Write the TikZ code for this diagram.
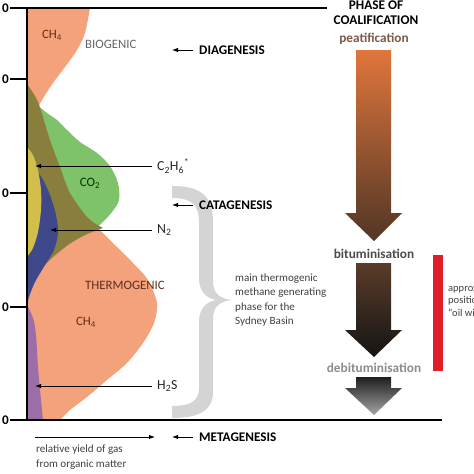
\documentclass[tikz,border=0pt]{standalone}
\usepackage{fontspec}
\setmainfont{Carlito}
\usetikzlibrary{arrows.meta,positioning,calc}

\definecolor{ch4col}{RGB}{243,162,124}
\definecolor{co2col}{RGB}{126,194,106}
\definecolor{olivecol}{RGB}{138,126,60}
\definecolor{yellowcol}{RGB}{210,190,74}
\definecolor{n2col}{RGB}{62,72,138}
\definecolor{h2scol}{RGB}{156,110,168}
\definecolor{bracecol}{RGB}{212,212,212}
\definecolor{peatorange}{RGB}{224,118,60}
\definecolor{peatbrown}{RGB}{123,90,72}
\definecolor{coalbrown}{RGB}{90,60,42}
\definecolor{oilred}{RGB}{224,30,42}
\definecolor{labelbrown}{RGB}{96,46,30}

\tikzset{
  gas/.style={font=\fontsize{13.8}{15}\selectfont, text=black!85, inner sep=0pt},
  stage/.style={font=\bfseries\fontsize{13.2}{15}\selectfont, inner sep=0pt},
  region/.style={font=\fontsize{12.8}{15}\selectfont, text=labelbrown, inner sep=0pt},
  phase/.style={font=\bfseries\fontsize{13.3}{15}\selectfont, inner sep=0pt},
  note/.style={font=\fontsize{11.1}{14.5}\selectfont, text=black!75, align=left, inner sep=0pt},
  tip/.style={-{Latex[length=6pt,width=4.5pt]}, line width=0.9pt},
  axisline/.style={line width=2.2pt},
}

\begin{document}
\begin{tikzpicture}[x=1pt,y=-1pt]
\clip (0,0) rectangle (474,474);

% gas yield fields
\fill[ch4col] (27,8) -- plot[smooth] coordinates {(90,8) (85,33) (77,50) (65,67) (53,83) (42,100) (36,112)} -- (27,112) -- cycle;
\fill[ch4col] (27,420) -- plot[smooth] coordinates {(60,420) (70,410) (87,397) (107,380) (127,363) (143,343) (154,323) (157,303) (148,280) (133,263) (117,247) (100,230) (95,225)} -- (75,215) -- (27,215) -- cycle;
\fill[co2col] plot[smooth] coordinates {(36,104) (47,113) (57,120) (67,130) (80,142) (97,153) (110,166) (118,183) (119,200) (112,212) (103,222) (96,228)} -- (75,205) -- (50,150) -- cycle;
\fill[olivecol] plot[smooth] coordinates {(27,84) (38,102) (50,140) (60,167) (70,193) (88,218) (103,228)} -- plot[smooth] coordinates {(103,228) (85,235) (68,245) (52,258) (40,270)} -- (27,275) -- cycle;
\fill[n2col] (27,165) -- plot[smooth] coordinates {(33,166) (42,178) (50,195) (56,215) (58,233) (54,250) (45,265) (35,282) (29,297) (27,307)} -- cycle;
\fill[yellowcol] plot[smooth] coordinates {(27,147) (33,155) (38,170) (41,190) (41,210) (38,232) (33,248) (27,257)} -- cycle;
\fill[h2scol] plot[smooth] coordinates {(27,305) (33,318) (36,335) (38,367) (41,400) (43,420)} -- (27,420) -- cycle;

% brace
\fill[bracecol] (172,186) .. controls (200,186) and (213,195) .. (213,222)
  -- (213,282) .. controls (213,293) and (220,299) .. (232,300)
  .. controls (220,301) and (213,307) .. (213,318)
  -- (213,392) .. controls (213,410) and (200,418) .. (172,418)
  -- (172,406) .. controls (192,406) and (199,400) .. (199,388)
  -- (199,322) .. controls (199,310) and (205,302) .. (216,300)
  .. controls (205,298) and (199,290) .. (199,278)
  -- (199,222) .. controls (199,205) and (192,198) .. (172,198) -- cycle;
\coordinate (bracetip) at (232,300);
\node[note, right=3pt of bracetip] (bracenote) {main thermogenic\\methane generating\\phase for the\\Sydney Basin};

% axes
\draw[axisline] (10,8) -- (327,8);
\draw[axisline] (10,420) -- (442,420);
\draw[axisline] (27,8) -- (27,420);
\foreach \y in {79,193,307}
  \draw[axisline] (10,\y) -- (27,\y);
\foreach \y in {8,79,193,307,420}
  \node[stage, anchor=east] (tick\y) at (9,\y) {0};

% field labels
\node[region] (ch4top) at (52,35) {CH\textsubscript{4}};
\node[region, text=black!60, anchor=west] (biogenic) at (85,44) {BIOGENIC};
\node[region, text=black!80!green] (co2) at (90,183) {CO\textsubscript{2}};
\node[region, anchor=west] (thermo) at (85,285) {THERMOGENIC};
\node[region] (ch4low) at (86,322) {CH\textsubscript{4}};

% gas arrows
\coordinate (c2h6tip) at (35,166);
\coordinate (n2tip) at (50,230);
\coordinate (h2stip) at (35,386);
\node[gas, right=122pt of c2h6tip] (c2h6) {C\textsubscript{2}H\textsubscript{6}\textsuperscript{*}};
\node[gas, right=107pt of n2tip] (n2) {N\textsubscript{2}};
\node[gas, right=122pt of h2stip] (h2s) {H\textsubscript{2}S};
\path[tip]
  (c2h6) edge[shorten <=5pt] (c2h6tip)
  (n2) edge[shorten <=5pt] (n2tip)
  (h2s) edge[shorten <=5pt] (h2stip);

% stages
\coordinate (diagtip) at (172,50);
\coordinate (catatip) at (172,205);
\coordinate (metatip) at (172,437);
\node[stage, right=27pt of diagtip] (diag) {DIAGENESIS};
\node[stage, right=27pt of catatip] (cata) {CATAGENESIS};
\node[stage, right=27pt of metatip] (meta) {METAGENESIS};
\path[tip]
  (diag) edge[shorten <=6pt] (diagtip)
  (cata) edge[shorten <=6pt] (catatip)
  (meta) edge[shorten <=6pt] (metatip);

% yield axis
\coordinate (yieldfrom) at (35,437);
\coordinate (yieldto) at (155,437);
\draw[tip] (yieldfrom) -- (yieldto);
\node[note, anchor=north west] (yieldlabel) at (36,445) {relative yield of gas\\from organic matter};

% coalification
\node[phase, align=center] (phasehead) at (376,13) {PHASE OF\\COALIFICATION};
\node[phase, text=peatbrown] (peat) at (374,39) {peatification};
\node[phase, text=black!70] (bitu) at (374,254) {bituminisation};
\node[phase, text=black!45] (debitu) at (374,368) {debituminisation};
\shade[top color=peatorange, middle color=coalbrown, bottom color=coalbrown!90!black]
  (356,50) -- (391,50) -- (391,213) -- (402,213) -- (374,241) -- (345,213) -- (356,213) -- cycle;
\shade[top color=coalbrown, bottom color=black!92]
  (356,263) -- (391,263) -- (391,330) -- (402,330) -- (374,357) -- (345,330) -- (356,330) -- cycle;
\shade[top color=black!88, bottom color=black!35]
  (356,377) -- (391,377) -- (391,388) -- (402,388) -- (374,415) -- (345,388) -- (356,388) -- cycle;

% oil window
\fill[oilred] (433,255) rectangle (443,371);
\node[note, font=\fontsize{10.5}{12.5}\selectfont, anchor=west] (oilnote) at (448,300) {approximate\\position of the\\``oil window''};
\end{tikzpicture}
\end{document}
